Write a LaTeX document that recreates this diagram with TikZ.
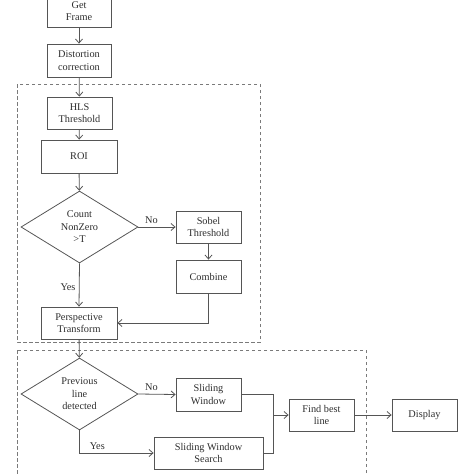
\documentclass[tikz,border=0pt]{standalone}
\usepackage{fontspec}
\setmainfont{Liberation Serif}
\usetikzlibrary{shapes.geometric, arrows.meta}

\definecolor{linegray}{HTML}{555555}
\definecolor{textgray}{HTML}{2E2E2E}
\definecolor{dashgray}{HTML}{7A7A7A}

\tikzset{
	box/.style={draw=linegray, line width=0.8pt, rectangle, align=center, inner sep=0pt, text=textgray, font=\fontsize{10.3}{12.5}\selectfont},
	decision/.style={draw=linegray, line width=0.8pt, diamond, aspect=1.6, align=center, inner sep=0pt, text=textgray, font=\fontsize{10.3}{12.5}\selectfont, minimum width=117pt, minimum height=72pt},
	flow/.style={-{Straight Barb[length=4pt, width=7pt]}, draw=linegray, line width=0.8pt},
	group/.style={draw=dashgray, dash pattern=on 3.5pt off 2.5pt, line width=0.8pt},
	tag/.style={text=textgray, font=\fontsize{10.3}{12}\selectfont}
}

\begin{document}
\begin{tikzpicture}[x=1pt, y=-1pt]
	\useasboundingbox (0,0) rectangle (474,474);

	\coordinate (J) at (273,415); % join of both searches

	% dashed groups
	\draw[group] (17,84) rectangle (260,342);
	\draw[group] (17,350) rectangle (366,480);

	\node[box, minimum width=64pt, minimum height=32pt] (frame) at (79,11) {Get\\Frame};
	\node[box, minimum width=64pt, minimum height=33pt] (distort) at (79,60.5) {Distortion\\correction};
	\node[box, minimum width=65pt, minimum height=32pt] (hls) at (79.5,113) {HLS\\Threshold};
	\node[box, minimum width=76pt, minimum height=33pt] (roi) at (79,156.5) {ROI};
	\node[decision] (count) at (79.5,227) {Count\\NonZero\\>T};
	\node[box, minimum width=65pt, minimum height=32pt] (sobel) at (208.5,227) {Sobel\\Threshold};
	\node[box, minimum width=65pt, minimum height=33pt] (combine) at (208.5,276.5) {Combine};
	\node[box, minimum width=76pt, minimum height=32pt] (persp) at (79,323) {Perspective\\Transform};

	\node[decision] (prev) at (79.5,394) {Previous\\line\\detected};
	\node[box, minimum width=65pt, minimum height=33pt] (slide) at (208.5,394.5) {Sliding\\Window};
	\node[box, minimum width=109pt, minimum height=32pt] (search) at (208.5,453) {Sliding Window\\Search};
	\node[box, minimum width=65pt, minimum height=32pt] (best) at (321.5,415) {Find best\\line};
	\node[box, minimum width=65pt, minimum height=32pt] (display) at (424.5,415) {Display};

	\draw[flow] (frame) -- (distort);
	\draw[flow] (distort) -- (hls);
	\draw[flow] (hls) -- (roi);
	\draw[flow] (roi) -- (count);
	\draw[flow] (count.east) -- node[tag, above, pos=0.35] {No} (sobel.west);
	\draw[flow] (sobel) -- (combine);
	\draw[flow] (combine.south) |- (persp.east);
	\draw[flow] (count.south) -- node[tag, left, pos=0.55] {Yes} (persp.north);
	\draw[flow] (persp) -- (prev);

	\draw[flow] (prev.east) -- node[tag, above, pos=0.35] {No} (slide.west);
	\draw[flow] (prev.south) |- node[tag, above, pos=0.62] {Yes} (search.west);
	\draw[linegray, line width=0.8pt] (slide.east) -| (J);
	\draw[linegray, line width=0.8pt] (search.east) -| (J);
	\draw[flow] (J) -- (best.west);
	\draw[flow] (best) -- (display);
\end{tikzpicture}
\end{document}
